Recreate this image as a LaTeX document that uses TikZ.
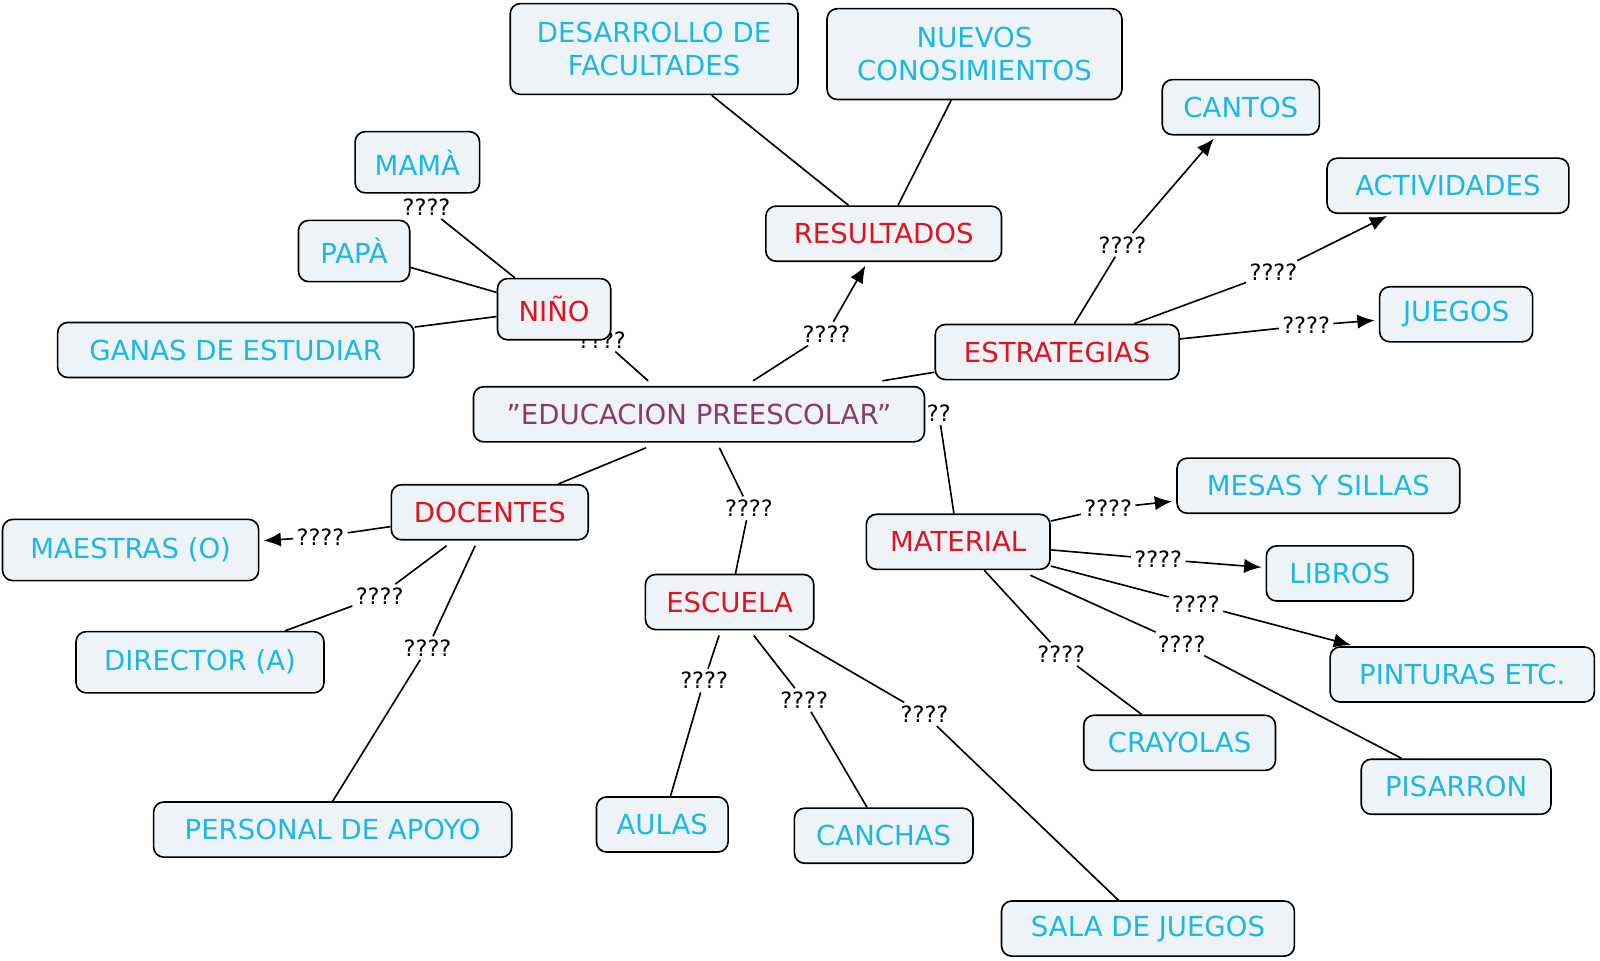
\documentclass[tikz,border=0pt]{standalone}
\usepackage{fontspec}
\setmainfont{DejaVu Sans}
\usetikzlibrary{arrows.meta,backgrounds}
\definecolor{cy}{HTML}{1BB8E6}
\definecolor{rd}{HTML}{E0141E}
\definecolor{pu}{HTML}{8B3A6E}
\definecolor{bx}{HTML}{EDF3F6}
\begin{document}
\begin{tikzpicture}[x=0.5pt,y=-0.5pt,
 box/.style={draw=black,line width=0.8pt,fill=bx,rounded corners=5pt,font=\fontsize{13.5}{16}\selectfont,text=cy,inner sep=0pt,minimum height=27pt,align=center},
 main/.style={box,text=rd},
 w/.style={minimum width=#1*0.5pt},
 lab/.style={font=\fontsize{11}{13}\selectfont,inner sep=1.5pt},
 ln/.style={line width=0.8pt},
 ar/.style={ln,-{Latex[length=8.5pt,width=7pt]},shorten >=2pt}]
\useasboundingbox (0,0) rectangle (1568,941);
% labels hidden behind nodes
\node[lab] (l1) at (590,333) {????};
\node[lab] (l2) at (920,405) {??};
% nodes
\node[box,w=282,minimum height=44.5pt] (des) at (641,48) {DESARROLLO DE\\FACULTADES};
\node[box,w=289,minimum height=44.5pt] (nue) at (955,53) {NUEVOS\\CONOSIMIENTOS};
\node[box,w=154] (can) at (1216,105) {CANTOS};
\node[box,w=237] (act) at (1419,182) {ACTIVIDADES};
\node[box,w=150] (jue) at (1427,308) {JUEGOS};
\node[main,w=231] (res) at (866,229) {RESULTADOS};
\node[main,w=239] (est) at (1036,345) {ESTRATEGIAS};
\node[box,w=122,minimum height=30pt] (mam) at (409,159) {MAMÀ};
\node[box,w=109,minimum height=30pt] (pap) at (347,246) {PAPÀ};
\node[main,w=111,minimum height=30pt] (nin) at (543,303) {NIÑO};
\node[box,w=349] (gan) at (231,343) {GANAS DE ESTUDIAR};
\node[box,w=442,text=pu] (edu) at (685,406) {"EDUCACION PREESCOLAR"};
\node[main,w=193] (doc) at (480,502) {DOCENTES};
\node[box,w=251,minimum height=30pt] (mae) at (128,539) {MAESTRAS (O)};
\node[box,w=243,minimum height=30pt] (dir) at (196,649) {DIRECTOR (A)};
\node[box,w=351] (per) at (326,813) {PERSONAL DE APOYO};
\node[main,w=165] (esc) at (715,590) {ESCUELA};
\node[box,w=129] (aul) at (649,808) {AULAS};
\node[box,w=175] (cnc) at (866,819) {CANCHAS};
\node[box,w=287] (sal) at (1125,910) {SALA DE JUEGOS};
\node[main,w=180] (mat) at (939,531) {MATERIAL};
\node[box,w=277] (mes) at (1292,476) {MESAS Y SILLAS};
\node[box,w=144] (lib) at (1313,562) {LIBROS};
\node[box,w=259] (pin) at (1433,661) {PINTURAS ETC.};
\node[box,w=188] (cra) at (1156,728) {CRAYOLAS};
\node[box,w=186] (pis) at (1427,771) {PISARRON};
% other labels
\node[lab] (l3) at (418,203) {????};
\node[lab] (l4) at (810,327) {????};
\node[lab] (l5) at (1100,240) {????};
\node[lab] (l6) at (1248,267) {????};
\node[lab] (l7) at (1280,319) {????};
\node[lab] (l8) at (1086,498) {????};
\node[lab] (l9) at (1135,548) {????};
\node[lab] (l10) at (1172,592) {????};
\node[lab] (l11) at (1040,641) {????};
\node[lab] (l12) at (1158,631) {????};
\node[lab] (l13) at (314,526) {????};
\node[lab] (l14) at (372,584) {????};
\node[lab] (l15) at (419,635) {????};
\node[lab] (l16) at (734,498) {????};
\node[lab] (l17) at (690,667) {????};
\node[lab] (l18) at (788,686) {????};
\node[lab] (l19) at (906,700) {????};
\begin{scope}[on background layer]
\draw[ln] (edu.north west)+(172,-5) -- (l1);
\draw[ln] (nin) -- (l3);
\draw[ln] (nin) -- (pap);
\draw[ln] (nin) -- (gan);
\draw[ln] (edu.north)+(53,-5) -- (l4); \draw[ar] (l4) -- (res);
\draw[ln] (res) -- (des);
\draw[ln] (res) -- (nue);
\draw[ln] (edu.north east)+(-42,-5) -- (est);
\draw[ln] (est) -- (l5); \draw[ar] (l5) -- (can);
\draw[ln] (est) -- (l6); \draw[ar] (l6) -- (act);
\draw[ln] (est) -- (l7); \draw[ar] (l7) -- (jue);
\draw[ln] (l2) -- (mat);
\draw[ln] (mat) -- (l8); \draw[ar] (l8) -- (mes);
\draw[ln] (mat) -- (l9); \draw[ar] (l9) -- (lib);
\draw[ln] (mat) -- (l10); \draw[ar] (l10) -- (pin);
\draw[ln] (mat) -- (l11); \draw[ln] (l11) -- (cra);
\draw[ln] (mat.south east)+(-20,5) -- (l12); \draw[ln] (l12) -- (pis);
\draw[ln] (edu.south west)+(170,5) -- (doc);
\draw[ln] (doc) -- (l13); \draw[ar] (l13) -- (mae);
\draw[ln] (doc.south west)+(55,5) -- (l14); \draw[ln] (l14) -- (dir);
\draw[ln] (doc.south west)+(83,5) -- (l15); \draw[ln] (l15) -- (per.north)+(18,0);
\draw[ln] (edu.south)+(20,5) -- (l16); \draw[ln] (l16) -- (esc);
\draw[ln] (esc.south west)+(73,5) -- (l17); \draw[ln] (l17) -- (aul);
\draw[ln] (esc.south west)+(107,5) -- (l18); \draw[ln] (l18) -- (cnc);
\draw[ln] (esc.south east)+(-25,5) -- (l19); \draw[ln] (l19) -- (sal);
\end{scope}
\end{tikzpicture}
\end{document}
